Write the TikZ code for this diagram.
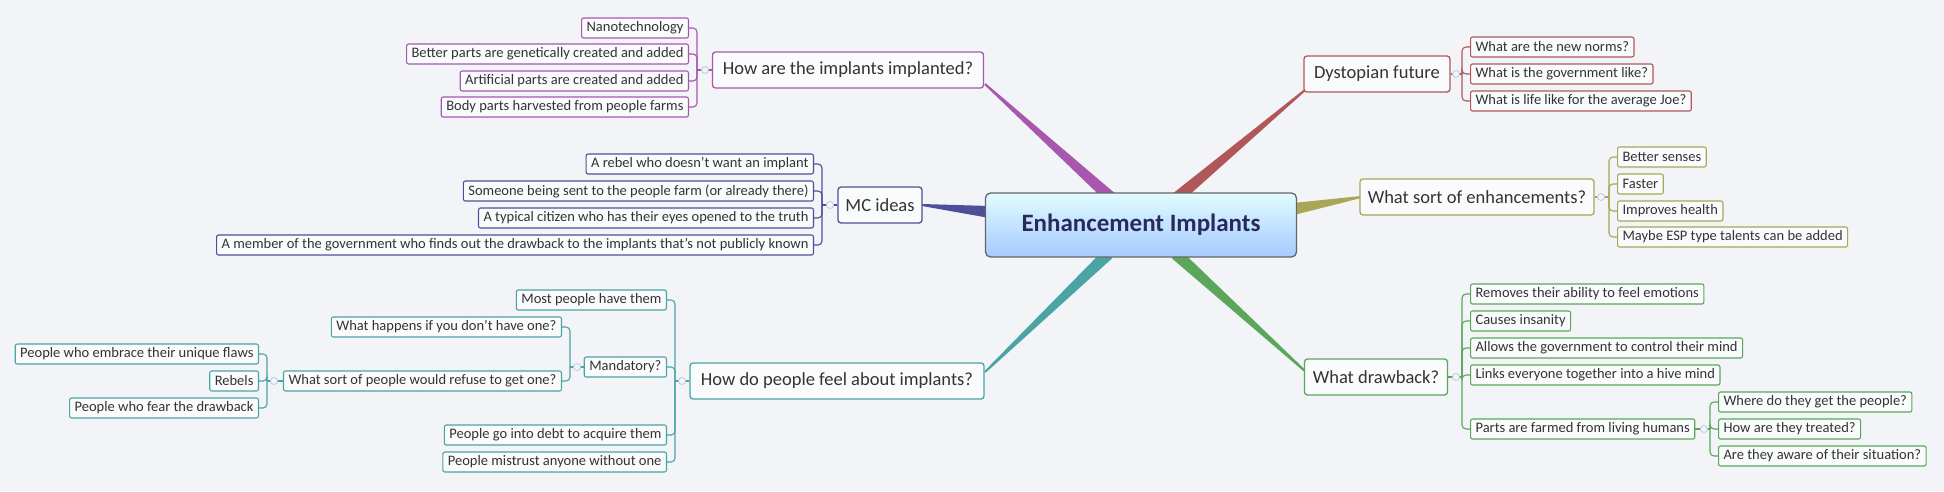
\documentclass[tikz,border=0pt]{standalone}
\usepackage{fontspec}
\setmainfont{Carlito}
\usetikzlibrary{calc}
\definecolor{bg}{HTML}{F2F4F8}
\definecolor{cpur}{HTML}{A757AE}
\definecolor{cnav}{HTML}{4F4F99}
\definecolor{cteal}{HTML}{4BA3A3}
\definecolor{cred}{HTML}{B0575A}
\definecolor{coli}{HTML}{A9A756}
\definecolor{cgrn}{HTML}{5BA65B}
\definecolor{txt}{HTML}{333333}
\definecolor{knob}{HTML}{B8CCE0}
\tikzset{
  leaf/.style={draw=#1, line width=1.1pt, rounded corners=2pt, fill=white!60!bg, text=txt,
    font=\fontsize{14.5}{15}\selectfont, inner xsep=5pt, inner ysep=0pt, minimum height=20pt},
  branch/.style={draw=#1, line width=1.3pt, rounded corners=3pt, fill=white!60!bg, text=txt,
    font=\fontsize{18.5}{20}\selectfont, inner xsep=6pt, minimum height=36pt},
  conn/.style={draw=#1, line width=1.1pt, rounded corners=4pt},
  knobst/.style={circle, draw=knob, fill=bg, line width=0.8pt, inner sep=0pt, minimum size=7pt},
}
\newcommand{\taper}[3]{\fill[#1] ($(#2)!6pt!90:(#3)$) -- ($(#3)!1pt!-90:(#2)$) -- ($(#3)!1pt!90:(#2)$) -- ($(#2)!6pt!-90:(#3)$) -- cycle;}
\begin{document}
\begin{tikzpicture}[x=1pt,y=-1pt]
\fill[bg] (0,0) rectangle (1944,491);
\useasboundingbox (0,0) rectangle (1944,491);
% taper coordinates
\coordinate (s1) at (1110,197); \coordinate (e1) at (985,84);
\coordinate (s2) at (1178,197); \coordinate (e2) at (1305,90);
\coordinate (s3) at (1293,209); \coordinate (e3) at (1361,197);
\coordinate (s4) at (990,212);  \coordinate (e4) at (922,205);
\coordinate (s5) at (1108,254); \coordinate (e5) at (985,372);
\coordinate (s6) at (1176,254); \coordinate (e6) at (1306,372);
\taper{cpur}{s1}{e1}
\taper{cred}{s2}{e2}
\taper{coli}{s3}{e3}
\taper{cnav}{s4}{e4}
\taper{cteal}{s5}{e5}
\taper{cgrn}{s6}{e6}
% center
\node[draw=gray!80!black, line width=1.3pt, rounded corners=5pt, top color=blue!8!cyan!12!white, bottom color=cyan!40!blue!35!white,
  minimum width=311pt, minimum height=64pt, text=txt!80!blue, font=\fontsize{25}{27}\selectfont\bfseries] (cen) at (1141,225) {Enhancement Implants};
% branches
\node[branch=cpur, minimum width=271pt] (imp) at (848,70) {How are the implants implanted?};
\node[branch=cnav, minimum width=84pt] (mc) at (880,205) {MC ideas};
\node[branch=cteal, minimum width=294pt] (feel) at (837,381) {How do people feel about implants?};
\node[branch=cred, minimum width=146pt] (dys) at (1377,74) {Dystopian future};
\node[branch=coli, minimum width=234pt] (enh) at (1477,197) {What sort of enhancements?};
\node[branch=cgrn, minimum width=143pt] (drw) at (1376,377) {What drawback?};
% implants leaves
\coordinate (impB) at (697,70);
\foreach \i/\y/\t in {1/28/{Nanotechnology},2/54/{Better parts are genetically created and added},3/81/{Artificial parts are created and added},4/107/{Body parts harvested from people farms}}{
  \node[leaf=cpur, anchor=east] (imp\i) at (689,\y) {\t};
  \draw[conn=cpur] (imp\i.east) -| (impB);
}
\draw[conn=cpur] (impB) -- (imp.west);
\node[knobst] at (705,70) {};
% MC leaves
\coordinate (mcB) at (822,205);
\foreach \i/\y/\t in {1/164/{A rebel who doesn't want an implant},2/191/{Someone being sent to the people farm (or already there)},3/218/{A typical citizen who has their eyes opened to the truth},4/245/{A member of the government who finds out the drawback to the implants that's not publicly known}}{
  \node[leaf=cnav, anchor=east] (mc\i) at (814,\y) {\t};
  \draw[conn=cnav] (mc\i.east) -| (mcB);
}
\draw[conn=cnav] (mcB) -- (mc.west);
\node[knobst] at (830,205) {};
% feel leaves
\coordinate (feelB) at (675,381);
\foreach \i/\y/\t in {1/300/{Most people have them},2/367/{Mandatory?},3/435/{People go into debt to acquire them},4/462/{People mistrust anyone without one}}{
  \node[leaf=cteal, anchor=east] (feel\i) at (667,\y) {\t};
  \draw[conn=cteal] (feel\i.east) -| (feelB);
}
\draw[conn=cteal] (feelB) -- (feel.west);
\node[knobst] at (682,381) {};
\coordinate (manB) at (570,367);
\node[leaf=cteal, anchor=east] (man1) at (562,327) {What happens if you don't have one?};
\node[leaf=cteal, anchor=east] (man2) at (562,381) {What sort of people would refuse to get one?};
\draw[conn=cteal] (man1.east) -| (manB);
\draw[conn=cteal] (man2.east) -| (manB);
\draw[conn=cteal] (manB) -- (feel2.west);
\node[knobst] at (577,367) {};
\coordinate (refB) at (267,381);
\foreach \i/\y/\t in {1/354/{People who embrace their unique flaws},2/381/{Rebels},3/408/{People who fear the drawback}}{
  \node[leaf=cteal, anchor=east] (ref\i) at (259,\y) {\t};
  \draw[conn=cteal] (ref\i.east) -| (refB);
}
\draw[conn=cteal] (refB) -- (man2.west);
\node[knobst] at (274,381) {};
% dystopian
\coordinate (dysB) at (1462,74);
\foreach \i/\y/\t in {1/47/{What are the new norms?},2/74/{What is the government like?},3/101/{What is life like for the average Joe?}}{
  \node[leaf=cred, anchor=west] (dys\i) at (1470,\y) {\t};
  \draw[conn=cred] (dys\i.west) -| (dysB);
}
\draw[conn=cred] (dysB) -- (dys.east);
\node[knobst] at (1456,74) {};
% enhancements
\coordinate (enhB) at (1609,197);
\foreach \i/\y/\t in {1/157/{Better senses},2/184/{Faster},3/211/{Improves health},4/237/{Maybe ESP type talents can be added}}{
  \node[leaf=coli, anchor=west] (enh\i) at (1617,\y) {\t};
  \draw[conn=coli] (enh\i.west) -| (enhB);
}
\draw[conn=coli] (enhB) -- (enh.east);
\node[knobst] at (1601,197) {};
% drawback
\coordinate (drwB) at (1462,377);
\foreach \i/\y/\t in {1/294/{Removes their ability to feel emotions},2/321/{Causes insanity},3/348/{Allows the government to control their mind},4/375/{Links everyone together into a hive mind},5/429/{Parts are farmed from living humans}}{
  \node[leaf=cgrn, anchor=west] (drw\i) at (1470,\y) {\t};
  \draw[conn=cgrn] (drw\i.west) -| (drwB);
}
\draw[conn=cgrn] (drwB) -- (drw.east);
\node[knobst] at (1456,377) {};
\coordinate (parB) at (1710,429);
\foreach \i/\y/\t in {1/402/{Where do they get the people?},2/429/{How are they treated?},3/456/{Are they aware of their situation?}}{
  \node[leaf=cgrn, anchor=west] (par\i) at (1718,\y) {\t};
  \draw[conn=cgrn] (par\i.west) -| (parB);
}
\draw[conn=cgrn] (parB) -- (drw5.east);
\node[knobst] at (1704,429) {};
\end{tikzpicture}
\end{document}
